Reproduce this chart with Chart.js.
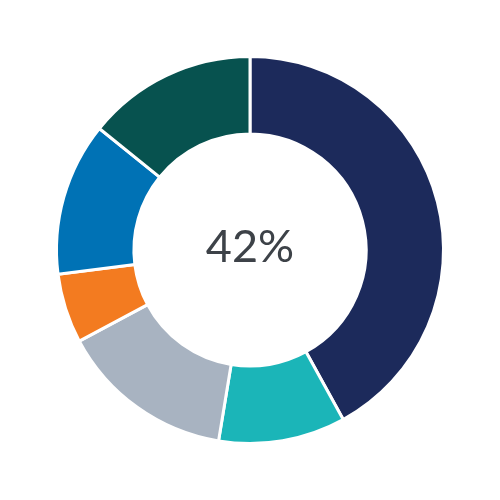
<!DOCTYPE html>
<html>
<head>
<meta charset="utf-8">
<script src="https://cdn.jsdelivr.net/npm/chart.js@4"></script>
<style>
  html, body { margin: 0; padding: 0; background: #fff; }
  #wrap { width: 500px; height: 500px; }
</style>
</head>
<body>
<div id="wrap"><canvas id="chart"></canvas></div>
<script>
// shares, clockwise from the top
const categories = ['A', 'B', 'C', 'D', 'E', 'F'];
const shares = [42, 10.6, 14.6, 5.8, 12.8, 14.2];
const sliceColors = ['#1c2a5b', '#1bb5b8', '#a8b3c1', '#f37b20', '#0072b5', '#07524f'];
const centerLabel = '42%';

// text in the hole
const centerText = {
    id: 'centerText',
    afterDraw(chart) {
        const { ctx, chartArea } = chart;
        const x = (chartArea.left + chartArea.right) / 2;
        const y = (chartArea.top + chartArea.bottom) / 2;
        ctx.save();
        ctx.fillStyle = '#3d4248';
        ctx.font = '400 45px Lato, "Open Sans", sans-serif';
        ctx.textAlign = 'center';
        ctx.textBaseline = 'middle';
        ctx.fillText(centerLabel, x, y - 3);
        ctx.restore();
    }
};

new Chart(document.getElementById('chart'), {
    type: 'doughnut',
    data: {
        labels: categories,
        datasets: [{
            data: shares,
            backgroundColor: sliceColors,
            borderColor: '#fff',
            borderWidth: 3
        }]
    },
    options: {
        responsive: true,
        maintainAspectRatio: false,
        animation: false,
        cutout: '60%',
        layout: { padding: 55 },
        plugins: {
            legend: { display: false },
            tooltip: { enabled: false }
        }
    },
    plugins: [centerText]
});
</script>
</body>
</html>
